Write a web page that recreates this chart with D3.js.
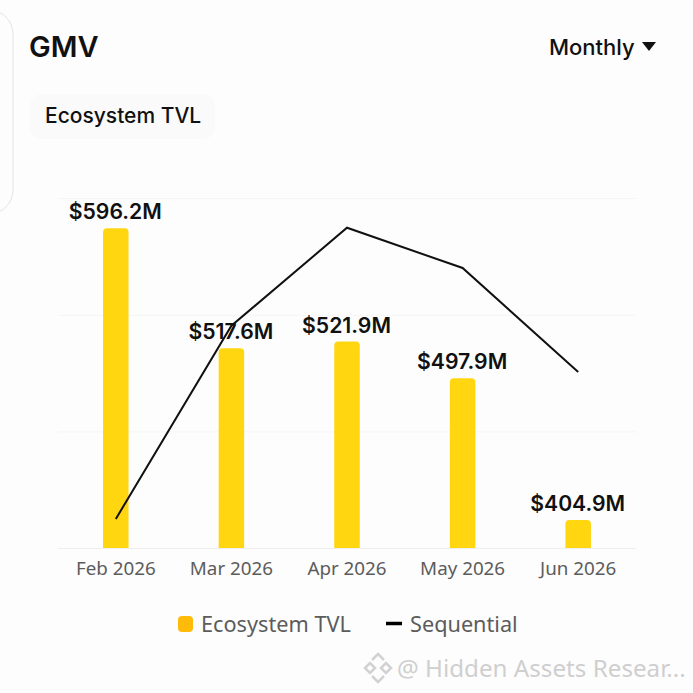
<!DOCTYPE html>
<html>
<head>
<meta charset="utf-8">
<script src="https://cdn.jsdelivr.net/npm/d3@7"></script>
<style>
html, body { margin: 0; padding: 0; background: #fdfdfd; overflow: hidden; }
svg { display: block; font-family: Inter, "Noto Sans", sans-serif; }
</style>
</head>
<body>
<script>
// values
var months = ['Feb 2026', 'Mar 2026', 'Apr 2026', 'May 2026', 'Jun 2026'];
var tvlValues = [596.2, 517.6, 521.9, 497.9, 404.9];
// no axis is labelled for this one, so it is an index from 0 to 100
var sequentialValues = [8.3, 63.5, 91.5, 80, 50.3];
var legendLabels = ['Ecosystem TVL', 'Sequential'];

var width = 693, height = 693;
var margin = {top: 198, right: 57, bottom: 145, left: 58};
var barWidth = 25.5;

var svg = d3.select("body").append("svg")
	.attr("width", width)
	.attr("height", height);

// Scales //////////////////////////////////////////////
var xScale = d3.scaleBand()
	.domain(months)
	.range([margin.left, width - margin.right]);

var yScale = d3.scaleLinear()
	.domain([386.6, 616])
	.range([height - margin.bottom, margin.top]);

var seqScale = d3.scaleLinear()
	.domain([0, 100])
	.range([height - margin.bottom, margin.top]);

// Card edge on the left //////////////////////////////
svg.append("rect")
	.attr("x", -40).attr("y", 10)
	.attr("width", 53).attr("height", 204)
	.attr("rx", 24)
	.attr("fill", "#fdfdfd")
	.attr("stroke", "#e4e4e4");

// Header /////////////////////////////////////////////
svg.append("text").attr("x", 29).attr("y", 57)
	.attr("font-size", 29).attr("font-weight", 600).attr("fill", "#111")
	.text("GMV");

svg.append("text").attr("x", 549).attr("y", 55)
	.attr("font-size", 22).attr("font-weight", 500).attr("fill", "#111")
	.text("Monthly");

svg.append("path")
	.attr("d", d3.line()([[642, 42], [656, 42], [649, 51]]) + "Z")
	.attr("fill", "#111");

svg.append("rect")
	.attr("x", 30).attr("y", 94)
	.attr("width", 185).attr("height", 45)
	.attr("rx", 12)
	.attr("fill", "#fafafa");

svg.append("text").attr("x", 45).attr("y", 123)
	.attr("font-size", 21).attr("font-weight", 500).attr("fill", "#111")
	.text("Ecosystem TVL");

// Gridlines and axis /////////////////////////////////
var yAxis = d3.axisLeft(seqScale)
	.tickValues([0, 100 / 3, 200 / 3, 100])
	.tickSize(-(width - margin.left - margin.right))
	.tickFormat("");

var yAxisG = svg.append("g")
	.attr("transform", "translate(" + margin.left + ",0)")
	.call(yAxis);
yAxisG.select(".domain").remove();
yAxisG.selectAll("line").attr("stroke", "#f5f5f5");

var xAxis = d3.axisBottom(xScale).tickSize(0).tickPadding(14);
var xAxisG = svg.append("g")
	.attr("transform", "translate(0," + (height - margin.bottom) + ")")
	.call(xAxis);
xAxisG.select(".domain").attr("stroke", "#eeeeee");
xAxisG.selectAll("text")
	.attr("font-family", "'Noto Sans', sans-serif")
	.attr("font-size", 18.8)
	.attr("fill", "#5c5c5c");

// Bars ///////////////////////////////////////////////
function barPath(d, i)
{
	var x0 = xScale(months[i]) + (xScale.bandwidth() - barWidth) / 2;
	var x1 = x0 + barWidth;
	var y0 = yScale(d);
	var y1 = yScale.range()[0];
	var r = 4;
	return "M" + x0 + "," + y1 + "V" + (y0 + r) + "Q" + x0 + "," + y0 + " " + (x0 + r) + "," + y0 +
		"H" + (x1 - r) + "Q" + x1 + "," + y0 + " " + x1 + "," + (y0 + r) + "V" + y1 + "Z";
}

svg.selectAll(".bar")
	.data(tvlValues)
	.enter().append("path")
	.attr("class", "bar")
	.attr("d", barPath)
	.attr("fill", "#ffd60f");

svg.selectAll(".bar-label")
	.data(tvlValues)
	.enter().append("text")
	.attr("class", "bar-label")
	.attr("x", function(d, i){ return xScale(months[i]) + xScale.bandwidth() / 2 - 0.5; })
	.attr("y", function(d){ return yScale(d) - 9; })
	.attr("text-anchor", "middle")
	.attr("font-size", 21.2)
	.attr("font-weight", 600)
	.attr("fill", "#111")
	.text(function(d){ return "$" + d.toFixed(1) + "M"; });

// Sequential line ////////////////////////////////////
var seqLine = d3.line()
	.x(function(d, i){ return xScale(months[i]) + xScale.bandwidth() / 2; })
	.y(function(d){ return seqScale(d); });

svg.append("path")
	.datum(sequentialValues)
	.attr("d", seqLine)
	.attr("fill", "none")
	.attr("stroke", "#111")
	.attr("stroke-width", 2);

// Legend /////////////////////////////////////////////
svg.append("rect")
	.attr("x", 178).attr("y", 616)
	.attr("width", 15).attr("height", 16)
	.attr("rx", 4)
	.attr("fill", "#ffbb0a");

svg.append("line")
	.attr("x1", 386).attr("x2", 402)
	.attr("y1", 623.5).attr("y2", 623.5)
	.attr("stroke", "#000")
	.attr("stroke-width", 3.5);

svg.selectAll(".legend-label")
	.data(legendLabels)
	.enter().append("text")
	.attr("class", "legend-label")
	.attr("x", function(d, i){ return i == 0 ? 201 : 410; })
	.attr("y", 632)
	.attr("font-family", "'Noto Sans', sans-serif")
	.attr("font-size", 21.7)
	.attr("fill", "#5c5c5c")
	.text(function(d){ return d; });

// Watermark //////////////////////////////////////////
var mark = svg.append("g")
	.attr("transform", "translate(378,668)")
	.attr("fill", "none")
	.attr("stroke", "#d2d2d2")
	.attr("stroke-width", 2.5);
mark.append("path").attr("d", "M-6,-8L0,-14L6,-8");
mark.append("path").attr("d", "M-6,8L0,14L6,8");
mark.append("path").attr("d", "M-13,0L-8,-5L-3,0L-8,5Z");
mark.append("path").attr("d", "M3,0L8,-5L13,0L8,5Z");

svg.append("text").attr("x", 397).attr("y", 677)
	.attr("font-family", "'Noto Sans', sans-serif")
	.attr("font-size", 24.2)
	.attr("fill", "#cfcfcf")
	.text("@ Hidden Assets Resear...");
</script>
</body>
</html>
